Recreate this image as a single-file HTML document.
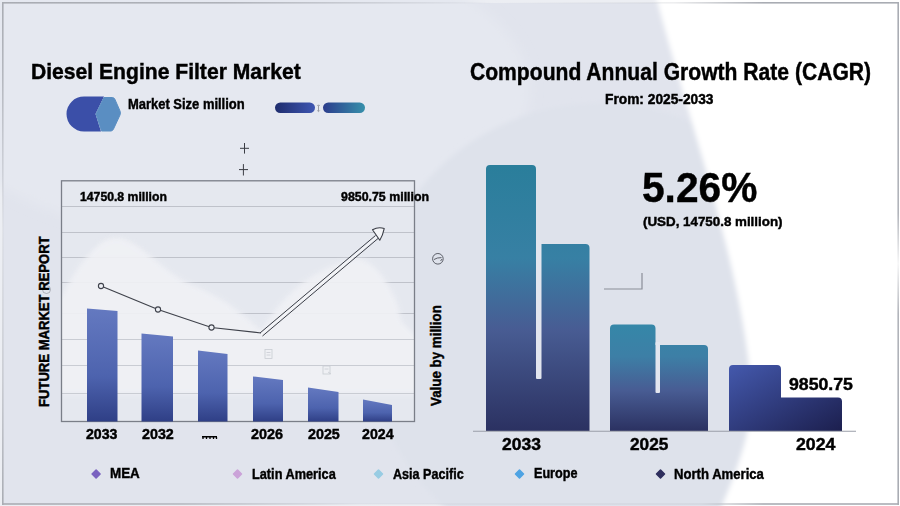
<!DOCTYPE html>
<html><head><meta charset="utf-8">
<style>
html,body{margin:0;padding:0;}
body{width:900px;height:506px;position:relative;overflow:hidden;background:#eceef3;font-family:"Liberation Sans",sans-serif;font-weight:bold;color:#000;}
.a{position:absolute;white-space:nowrap;line-height:1;transform-origin:0 0;-webkit-text-stroke:0.45px #000;}
svg{position:absolute;left:0;top:0;}
</style></head><body>
<svg width="900" height="506" viewBox="0 0 900 506">
  <defs>
    <linearGradient id="barL" x1="0" y1="0" x2="0" y2="1">
      <stop offset="0" stop-color="#6479c0"/>
      <stop offset="0.6" stop-color="#4d63ae"/>
      <stop offset="1" stop-color="#2f3f86"/>
    </linearGradient>
    <linearGradient id="barR" x1="0" y1="0" x2="0" y2="1">
      <stop offset="0" stop-color="#2a7e9b"/>
      <stop offset="0.35" stop-color="#3780a4"/>
      <stop offset="0.62" stop-color="#485c93"/>
      <stop offset="1" stop-color="#2b3161"/>
    </linearGradient>
    <linearGradient id="barR2" x1="0" y1="0" x2="0" y2="1">
      <stop offset="0" stop-color="#3587a8"/>
      <stop offset="0.3" stop-color="#3d7fa6"/>
      <stop offset="0.62" stop-color="#485c93"/>
      <stop offset="1" stop-color="#2b3161"/>
    </linearGradient>
    <linearGradient id="barE" x1="0" y1="0" x2="1" y2="1">
      <stop offset="0" stop-color="#4459ad"/>
      <stop offset="1" stop-color="#1c1f4e"/>
    </linearGradient>
    <linearGradient id="pill1" x1="0" y1="0" x2="1" y2="0">
      <stop offset="0" stop-color="#1f2d6e"/>
      <stop offset="1" stop-color="#3e56b2"/>
    </linearGradient>
    <linearGradient id="pill2" x1="0" y1="0" x2="1" y2="0">
      <stop offset="0" stop-color="#2b3c8c"/>
      <stop offset="1" stop-color="#3790ab"/>
    </linearGradient>
    <linearGradient id="topLine" x1="0" y1="0" x2="1" y2="0">
      <stop offset="0" stop-color="#a9acb3" stop-opacity="1"/>
      <stop offset="0.25" stop-color="#a9acb3" stop-opacity="0.9"/>
      <stop offset="0.55" stop-color="#a9acb3" stop-opacity="0"/>
      <stop offset="0.75" stop-color="#a9acb3" stop-opacity="0.2"/>
      <stop offset="0.85" stop-color="#a9acb3" stop-opacity="1"/>
      <stop offset="1" stop-color="#a9acb3" stop-opacity="1"/>
    </linearGradient>
    <linearGradient id="botLine" x1="0" y1="0" x2="1" y2="0">
      <stop offset="0" stop-color="#a9acb3" stop-opacity="1"/>
      <stop offset="0.2" stop-color="#a9acb3" stop-opacity="0.8"/>
      <stop offset="0.4" stop-color="#a9acb3" stop-opacity="0.1"/>
      <stop offset="0.78" stop-color="#a9acb3" stop-opacity="0.2"/>
      <stop offset="0.85" stop-color="#a9acb3" stop-opacity="1"/>
      <stop offset="1" stop-color="#a9acb3" stop-opacity="1"/>
    </linearGradient>
    <linearGradient id="leftLine" x1="0" y1="0" x2="0" y2="1">
      <stop offset="0" stop-color="#a9acb3" stop-opacity="1"/>
      <stop offset="0.15" stop-color="#a9acb3" stop-opacity="0.8"/>
      <stop offset="0.45" stop-color="#a9acb3" stop-opacity="0.15"/>
      <stop offset="0.75" stop-color="#a9acb3" stop-opacity="0.5"/>
      <stop offset="1" stop-color="#a9acb3" stop-opacity="1"/>
    </linearGradient>
    <linearGradient id="rightLine" x1="0" y1="0" x2="0" y2="1">
      <stop offset="0" stop-color="#a9acb3" stop-opacity="1"/>
      <stop offset="0.42" stop-color="#a9acb3" stop-opacity="0.9"/>
      <stop offset="0.52" stop-color="#a9acb3" stop-opacity="0.1"/>
      <stop offset="0.62" stop-color="#a9acb3" stop-opacity="0.9"/>
      <stop offset="1" stop-color="#a9acb3" stop-opacity="1"/>
    </linearGradient>
    <filter id="blur1" x="-20%" y="-20%" width="140%" height="140%"><feGaussianBlur stdDeviation="1"/></filter>
    <filter id="blur3" x="-20%" y="-20%" width="140%" height="140%"><feGaussianBlur stdDeviation="2.5"/></filter>
    <filter id="blur6" x="-20%" y="-20%" width="140%" height="140%"><feGaussianBlur stdDeviation="6"/></filter>
    <clipPath id="chartClip"><rect x="62" y="181.5" width="352" height="240"/></clipPath>
  </defs>
  <!-- panel bg -->
  <rect x="0" y="0" width="900" height="506" fill="#eceef3"/>
  <rect x="3" y="3" width="895" height="501" fill="#e1e4ed"/>
  <ellipse cx="230" cy="90" rx="300" ry="150" fill="#e5e8f0" filter="url(#blur6)"/>
  <!-- subtle large light circle -->
  <circle cx="600" cy="335" r="232" fill="#dee2eb" filter="url(#blur3)"/>
  <!-- white right region -->
  <path d="M651 -20 L657 0 C 685.7 112.4, 743.3 267.6, 751.5 392.9 C 752.7 434.5, 731.6 482, 722 506 L 714 526 L 930 526 L 930 -20 Z" fill="#ffffff" filter="url(#blur3)"/>
  <!-- frame -->
  <rect x="2" y="2" width="896" height="1.6" fill="url(#topLine)"/>
  <rect x="2" y="503.2" width="896" height="1.6" fill="url(#botLine)"/>
  <rect x="2" y="2" width="1.6" height="503" fill="url(#leftLine)"/>
  <rect x="897.4" y="2" width="1.6" height="503" fill="url(#rightLine)"/>

  <!-- left chart box -->
  <rect x="61.5" y="180.8" width="353" height="240.7" fill="#e5e8ef"/>
  <g stroke="#bfc2ca" stroke-width="1.1">
    <line x1="62" y1="206.5" x2="414" y2="206.5"/>
    <line x1="62" y1="232.5" x2="414" y2="232.5"/>
    <line x1="62" y1="257.5" x2="414" y2="257.5"/>
    <line x1="62" y1="282.5" x2="414" y2="282.5"/>
    <line x1="62" y1="313.5" x2="414" y2="313.5"/>
  </g>
  <!-- whitish blob -->
  <g clip-path="url(#chartClip)"><path d="M50 300 L62 296 C 70 280, 80 262, 95 248 C 103 240, 110 237.5, 117 237.8 C 125 238, 135 243, 150 255.6 C 165 268, 175 277, 190 284 C 205 290, 225 300, 240 312.5 C 250 320, 258 328, 261 331 C 280 300, 300 282, 320 272 C 340 262, 350 258, 360 259 C 372 262, 385 275, 396 300 C 400 310, 400 318, 402 322 L 420 340 L 420 394 L 50 394 Z" fill="#f0f1f5" opacity="0.92" filter="url(#blur3)"/></g>
  <g stroke="#c9ccd3" stroke-width="1.1">
    <line x1="62" y1="339.5" x2="414" y2="339.5"/>
    <line x1="62" y1="365.5" x2="414" y2="365.5"/>
    <line x1="62" y1="393.5" x2="414" y2="393.5"/>
  </g>
  <rect x="61.5" y="180.8" width="353" height="240.7" fill="none" stroke="#7a7e88" stroke-width="1.3"/>
  <!-- bars -->
  <g fill="url(#barL)">
    <path d="M87 308.5 L117.5 311 L117.5 421.5 L87 421.5 Z"/>
    <path d="M141.5 333.5 L173 336.5 L173 421.5 L141.5 421.5 Z"/>
    <path d="M198 350.5 L227.5 354 L227.5 421.5 L198 421.5 Z"/>
    <path d="M253 376.5 L283 380 L283 421.5 L253 421.5 Z"/>
    <path d="M308 387.5 L338.5 392 L338.5 421.5 L308 421.5 Z"/>
    <path d="M363 399.5 L392 405 L392 421.5 L363 421.5 Z"/>
  </g>
  <!-- line -->
  <polyline points="101,286 158,309.5 211.5,327.5 261,333" fill="none" stroke="#3f424b" stroke-width="1.2"/>
  <g fill="#eef0f5" stroke="#3f424b" stroke-width="1.1">
    <circle cx="101" cy="286" r="2.6"/>
    <circle cx="158" cy="309.5" r="2.6"/>
    <circle cx="211.5" cy="327.5" r="2.6"/>
  </g>
  <!-- arrow double line -->
  <path d="M260 333 L375.5 235.5 M262.5 336 L378 238.5" stroke="#3a3d46" stroke-width="1" fill="none"/>
  <path d="M261 334.5 L376.7 237" stroke="#f4f5f8" stroke-width="1.6" fill="none"/>
  <path d="M372.5 229.8 Q378.5 226.5 384.2 228.6 Q382.8 235.5 379.8 240.2 Z" fill="#f4f5f8" stroke="#3a3d46" stroke-width="1.1" stroke-linejoin="round"/>

  <!-- faint document icons -->
  <g stroke="#c9ccd3" stroke-width="0.8" fill="none">
    <rect x="265" y="349.5" width="7" height="9"/>
    <path d="M266.5 352.5 H270.5 M266.5 355 H270.5"/>
    <rect x="323" y="366" width="7" height="8"/>
    <path d="M324.5 369 H328.5 M328 372 L331 374"/>
  </g>
  <!-- small circle glyphs -->
  <g stroke="#5c5f68" stroke-width="1" fill="none">
    <circle cx="437.9" cy="258.8" r="5.3"/>
    <path d="M434 259.5 Q437 257.5 441.5 257.6 M440.5 261 Q441.5 260 442 259"/>
  </g>
  <g stroke="#8e9199" stroke-width="0.9" fill="none" opacity="0.7">
    <circle cx="46.5" cy="289.5" r="4"/>
  </g>

  <!-- right CAGR bars -->
  <path d="M490 165 H532 Q536 165 536 169 V244 H585.5 Q589.5 244 589.5 248 V431 H486 V169 Q486 165 490 165 Z" fill="url(#barR)"/>
  <rect x="536" y="240" width="5.5" height="139" rx="1" fill="#e2e5ee"/>
  <path d="M614 324.5 H651.5 Q655.5 324.5 655.5 328.5 V345 H704 Q708 345 708 349 V431 H610 V328.5 Q610 324.5 614 324.5 Z" fill="url(#barR2)"/>
  <rect x="655.5" y="342" width="4.5" height="51" rx="1" fill="#e3e6ef"/>
  <path d="M733 365 H777 Q781 365 781 369 V397.5 H838 Q842 397.5 842 401.5 V431 H729 V369 Q729 365 733 365 Z" fill="url(#barE)"/>
  <line x1="473" y1="431.2" x2="856" y2="431.2" stroke="#9a9ea8" stroke-width="1.1"/>
  <path d="M604 289 H642 V273" fill="none" stroke="#8a8e98" stroke-width="1.2"/>

  <!-- top legend cylinder -->
  <path d="M84 96.5 H104 L95.5 114 L101 131.5 H84 A17.5 17.5 0 0 1 84 96.5 Z" fill="#3b4fa8"/>
  <path d="M104 97.5 H112.5 Q114 97.5 115 99.5 L120 111 Q120.8 113 120 115 L113.5 129 Q112.5 131 111 131 H101.5 L96 114 Z" fill="#5a8ec2" stroke="#5a8ec2" stroke-width="1" stroke-linejoin="round"/>
  <rect x="275" y="102.5" width="40" height="10.5" rx="5.25" fill="url(#pill1)"/>
  <rect x="323" y="102.5" width="42" height="10.5" rx="5.25" fill="url(#pill2)"/>
  <path d="M318.5 105.5 V111 M317.3 106 L318.5 104.8 L319.7 106 M317.3 110.5 L318.5 111.7 L319.7 110.5" stroke="#7a7d85" stroke-width="0.7" fill="none"/>

  <!-- legend diamonds -->
  <g stroke-linejoin="round" stroke-width="1.6">
    <rect x="93.3" y="471.2" width="5.6" height="5.6" transform="rotate(45 96.1 474)" fill="#7a62c0" stroke="#7a62c0"/>
    <rect x="234.7" y="471.2" width="5.6" height="5.6" transform="rotate(45 237.5 474)" fill="#cba3d9" stroke="#cba3d9"/>
    <rect x="375.7" y="471.2" width="5.6" height="5.6" transform="rotate(45 378.5 474)" fill="#98cce3" stroke="#98cce3"/>
    <rect x="516.7" y="471.2" width="5.6" height="5.6" transform="rotate(45 519.5 474)" fill="#4ea3e3" stroke="#4ea3e3"/>
    <rect x="657.7" y="471.2" width="5.6" height="5.6" transform="rotate(45 660.5 474)" fill="#2f2f5e" stroke="#2f2f5e"/>
  </g>
  <rect x="202" y="436" width="15" height="1.5" fill="#000"/><path d="M203 437 v2 M206.5 437 v2 M210 437 v2 M213.5 437 v2 M216.5 437 v2" stroke="#000" stroke-width="1.3"/>
  <!-- plus signs -->
  <path d="M240 148.3 H249 M244.5 143 V153.6 M239 169.6 H248 M243.4 164.1 V175.5" stroke="#3a3c44" stroke-width="1"/>
</svg>


<!--TEXT-->
<div class="a" style="left:30.82px;top:60.69px;font-size:22.29px;transform:scaleX(0.9471)">Diesel Engine Filter Market</div>
<div class="a" style="left:128.09px;top:96.19px;font-size:15.07px;transform:scaleX(0.8602)">Market Size million</div>
<div class="a" style="left:470.46px;top:61.24px;font-size:23.48px;transform:scaleX(0.8987)">Compound Annual Growth Rate (CAGR)</div>
<div class="a" style="left:605.04px;top:91.78px;font-size:14.49px;transform:scaleX(0.9487)">From: 2025-2033</div>
<div class="a" style="left:642.28px;top:166.88px;font-size:42.03px;transform:scaleX(0.9680)">5.26%</div>
<div class="a" style="left:643.33px;top:214.69px;font-size:13.19px;transform:scaleX(1.0126)">(USD, 14750.8 million)</div>
<div class="a" style="left:79.86px;top:191.46px;font-size:12.75px;transform:scaleX(0.9581)">14750.8 million</div>
<div class="a" style="left:341.40px;top:191.46px;font-size:12.75px;transform:scaleX(0.9710)">9850.75 million</div>
<div class="a" style="left:85.96px;top:426.51px;font-size:14.93px;transform:scaleX(0.9471)">2033</div>
<div class="a" style="left:141.67px;top:426.51px;font-size:14.93px;transform:scaleX(0.9571)">2032</div>
<div class="a" style="left:250.56px;top:426.51px;font-size:14.93px;transform:scaleX(0.9624)">2026</div>
<div class="a" style="left:307.86px;top:426.51px;font-size:14.93px;transform:scaleX(0.9579)">2025</div>
<div class="a" style="left:362.46px;top:426.51px;font-size:14.93px;transform:scaleX(0.9492)">2024</div>
<div class="a" style="left:501.67px;top:436.02px;font-size:17.39px;transform:scaleX(1.0069)">2033</div>
<div class="a" style="left:630.37px;top:436.02px;font-size:17.39px;transform:scaleX(0.9917)">2025</div>
<div class="a" style="left:795.56px;top:437.29px;font-size:16.96px;transform:scaleX(1.0455)">2024</div>
<div class="a" style="left:788.89px;top:376.71px;font-size:16.81px;transform:scaleX(1.0525)">9850.75</div>
<div class="a" style="left:109.64px;top:465.04px;font-size:15.36px;transform:scaleX(0.8731)">MEA</div>
<div class="a" style="left:252.00px;top:465.62px;font-size:15.51px;transform:scaleX(0.8213)">Latin America</div>
<div class="a" style="left:392.72px;top:465.62px;font-size:15.51px;transform:scaleX(0.8123)">Asia Pacific</div>
<div class="a" style="left:533.99px;top:466.20px;font-size:14.35px;transform:scaleX(0.8793)">Europe</div>
<div class="a" style="left:673.98px;top:465.62px;font-size:15.51px;transform:scaleX(0.8463)">North America</div>
<div class="a" style="left:36.87px;top:406.81px;font-size:14.77px;transform:rotate(-90deg) scaleX(0.8851)">FUTURE MARKET REPORT</div>
<div class="a" style="left:427.84px;top:406.33px;font-size:15.36px;transform:rotate(-90deg) scaleX(0.8683)">Value by million</div>
<!--/TEXT-->
</body></html>
